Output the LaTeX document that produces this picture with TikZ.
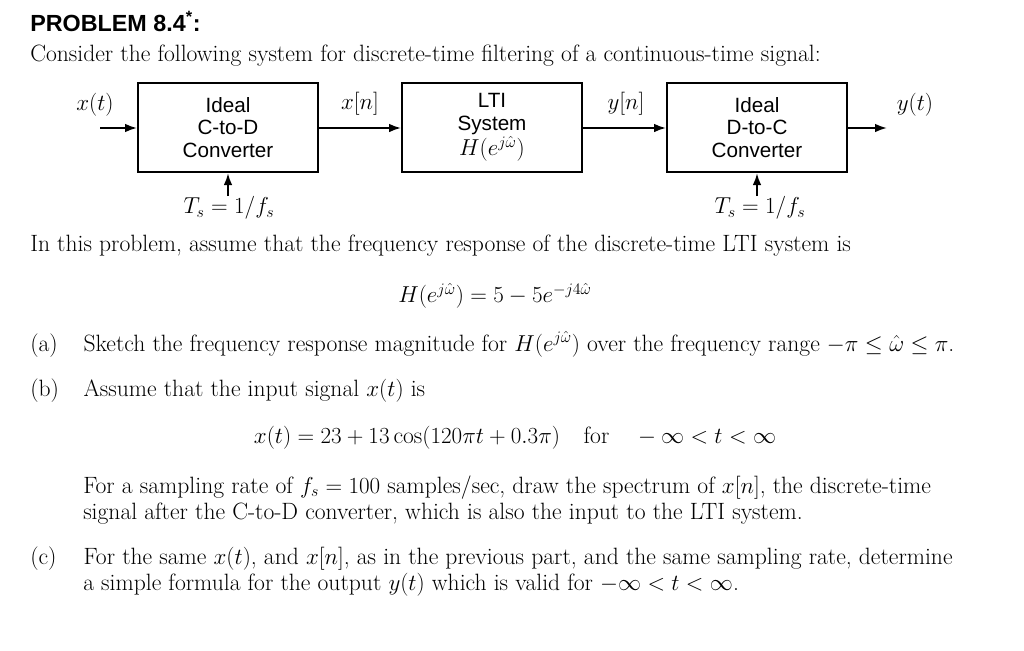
\documentclass[tikz,border=0pt]{standalone}
\usepackage{amsmath,amssymb}
\usepackage{fontspec}
\newfontfamily\arial{Liberation Sans}
\usetikzlibrary{arrows.meta}
\begin{document}
\begin{tikzpicture}[x=0.75pt,y=-0.75pt,
  txt/.style={anchor=base west,inner sep=0,font=\fontsize{17.7}{21}\selectfont},
  blk/.style={draw,line width=1.4pt,minimum width=135pt,minimum height=67pt,inner sep=0,font=\arial\fontsize{15.5}{17}\selectfont,align=center},
  lab/.style={inner sep=0,font=\fontsize{17.7}{21}\selectfont},
  arr/.style={line width=1.5pt,-{Latex[length=9pt,width=6.5pt]}}]
\useasboundingbox (0,0) rectangle (1024,650);
\node[anchor=base west,inner sep=0,font=\arial\bfseries\fontsize{17.5}{20}\selectfont] (hd) at (30,31) {PROBLEM 8.4\textsuperscript{*}:};
\node[txt] (l1) at (30,61) {Consider the following system for discrete-time filtering of a continuous-time signal:};
\node[blk] (b1) at (228,127.5) {Ideal\\C-to-D\\Converter};
\node[blk] (b2) at (492,127.5) {LTI\\System\\{\fontsize{18}{18}\selectfont $H(e^{j\hat\omega})$}};
\node[blk] (b3) at (757,127.5) {Ideal\\D-to-C\\Converter};
\coordinate (in) at (100,128);
\coordinate (out) at (887,128);
\draw[arr] (in) -- (b1.west|-in);
\draw[arr] (b1.east|-in) -- (b2.west|-in);
\draw[arr] (b2.east|-in) -- (b3.west|-in);
\draw[arr] (b3.east|-in) -- (out);
\node[lab] (xt) at (95,105) {$x(t)$};
\node[lab] (xn) at (360,104) {$x[n]$};
\node[lab] (yn) at (626,104) {$y[n]$};
\node[lab] (yt) at (915,105) {$y(t)$};
\node[lab] (ts1) at (229,208) {$T_s=1/f_s$};
\node[lab] (ts2) at (760,208) {$T_s=1/f_s$};
\coordinate (u1) at (228,196);
\coordinate (u2) at (757,196);
\draw[arr] (u1) -- (b1.south);
\draw[arr] (u2) -- (b3.south);
\node[txt] (l2) at (30,251) {In this problem, assume that the frequency response of the discrete-time LTI system is};
\node[lab] (eq1) at (495,296) {$H(e^{j\hat\omega})=5-5e^{-j4\hat\omega}$};
\node[txt] (la) at (30,351) {\makebox[40pt][l]{(a)}Sketch the frequency response magnitude for $H(e^{j\hat\omega})$ over the frequency range $-\pi\le\hat\omega\le\pi$.};
\node[txt] (lb) at (30,396) {\makebox[40pt][l]{(b)}Assume that the input signal $x(t)$ is};
\node[lab] (eq2) at (515,438) {$x(t)=23+13\cos(120\pi t+0.3\pi)\quad\text{for}\quad-\infty<t<\infty$};
\node[txt] (lb1) at (83,493) {For a sampling rate of $f_s=100$ samples/sec, draw the spectrum of $x[n]$, the discrete-time};
\node[txt] (lb2) at (83,519) {signal after the C-to-D converter, which is also the input to the LTI system.};
\node[txt] (lc1) at (30,564) {\makebox[40pt][l]{(c)}For the same $x(t)$, and $x[n]$, as in the previous part, and the same sampling rate, determine};
\node[txt] (lc2) at (83,590) {a simple formula for the output $y(t)$ which is valid for $-\infty<t<\infty$.};
\end{tikzpicture}
\end{document}
